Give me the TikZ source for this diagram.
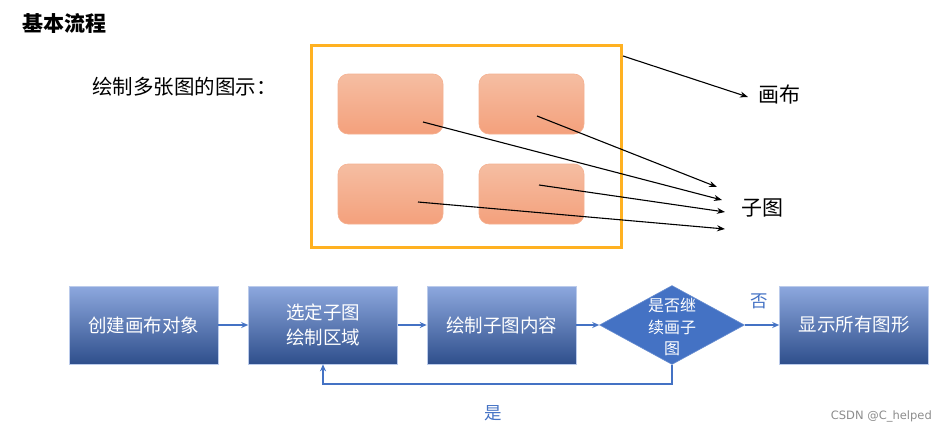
\documentclass[tikz,border=0pt]{standalone}
\usepackage{fontspec}
\setmainfont{Noto Sans CJK SC}
\newfontfamily\wmfont{DejaVu Sans}
\usetikzlibrary{shapes.geometric,arrows.meta}
\definecolor{flowblue}{HTML}{4472C4}
\definecolor{flowtop}{HTML}{8DA8DE}
\definecolor{flowbot}{HTML}{2F4F8C}
\definecolor{subtop}{HTML}{F5BEA2}
\definecolor{subbot}{HTML}{F4A07C}
\definecolor{subedge}{HTML}{F4B090}
\definecolor{canvasor}{HTML}{FFB121}
\tikzset{
  flowbox/.style={rectangle, minimum width=149pt, minimum height=78pt, inner sep=0pt,
    top color=flowtop, middle color=flowblue!95!black, bottom color=flowbot,
    draw=flowtop!60!white, line width=0.6pt, text=white, align=center,
    font=\fontsize{18.5}{24.5}\selectfont},
  subbox/.style={rectangle, rounded corners=10pt, minimum width=105pt, minimum height=60pt,
    inner sep=0pt, top color=subtop, bottom color=subbot, draw=subedge, line width=0.6pt},
  flowarrow/.style={draw=flowblue, line width=1.5pt, -{Stealth[length=7pt,width=6pt]}},
  blackarrow/.style={draw=black, line width=1.1pt, -{Stealth[length=8pt,width=6pt]}},
  label/.style={inner sep=0pt, anchor=center}
}
\begin{document}
\begin{tikzpicture}[x=1pt,y=-1pt]
\useasboundingbox (0,0) rectangle (947,434);
% title
\node[label, anchor=west, font=\fontsize{21}{24}\selectfont\bfseries] (title) at (22,23) {基本流程};
\node[label, anchor=west, font=\fontsize{20.5}{24}\selectfont] (caption) at (92,87) {绘制多张图的图示：};
% canvas
\node[draw=canvasor, line width=3pt, minimum width=310pt, minimum height=202pt, inner sep=0pt] (canvas) at (466,146) {};
\node[subbox] (s1) at (390.5,104) {};
\node[subbox] (s2) at (531.5,104) {};
\node[subbox] (s3) at (390.5,194) {};
\node[subbox] (s4) at (531.5,194) {};
\coordinate (p1) at (423,122);
\coordinate (p2) at (537,116);
\coordinate (p3) at (418,202);
\coordinate (p4) at (539,185);
\coordinate (c0) at (623,56);
\node[label, anchor=west, font=\fontsize{21}{24}\selectfont] (huabu) at (758,95) {画布};
\node[label, anchor=west, font=\fontsize{21}{24}\selectfont] (zitu) at (741,208) {子图};
\coordinate (h0) at (748,97);
\coordinate (t1) at (717,187);
\coordinate (t2) at (722,200);
\coordinate (t3) at (725,212);
\coordinate (t4) at (725,229);
\draw[blackarrow] (c0) -- (h0);
\draw[blackarrow] (p2) -- (t1);
\draw[blackarrow] (p1) -- (t2);
\draw[blackarrow] (p4) -- (t3);
\draw[blackarrow] (p3) -- (t4);
% flow
\node[flowbox] (b1) at (143.5,325) {创建画布对象};
\node[flowbox] (b2) at (323,325) {选定子图\\绘制区域};
\node[flowbox] (b3) at (501.5,325) {绘制子图内容};
\node[diamond, fill=flowblue, draw=flowblue!80!white, line width=0.6pt, minimum width=145pt, minimum height=79pt, inner sep=0pt] (d) at (672,325) {};
\node[label, text=white, align=center, font=\fontsize{16}{21.5}\selectfont] (dtext) at (672,327) {是否继\\续画子\\图};
\node[flowbox] (b5) at (854,325) {显示所有图形};
\draw[flowarrow] (b1) -- (b2);
\draw[flowarrow] (b2) -- (b3);
\draw[flowarrow] (b3) -- (d);
\draw[flowarrow] (d) -- (b5);
\coordinate (loopr) at (672,384);
\coordinate (loopl) at (323,384);
\draw[flowarrow] (d.south) -- (loopr) -- (loopl) -- (b2.south);
\node[label, text=flowblue, font=\fontsize{17.5}{20}\selectfont] (no) at (759,301) {否};
\node[label, text=flowblue, font=\fontsize{17.5}{20}\selectfont] (yes) at (493,413) {是};
\node[label, anchor=east, text=black!45, font=\wmfont\fontsize{11.5}{14}\selectfont] (wm) at (932,416) {CSDN @C\_helped};
\end{tikzpicture}
\end{document}
